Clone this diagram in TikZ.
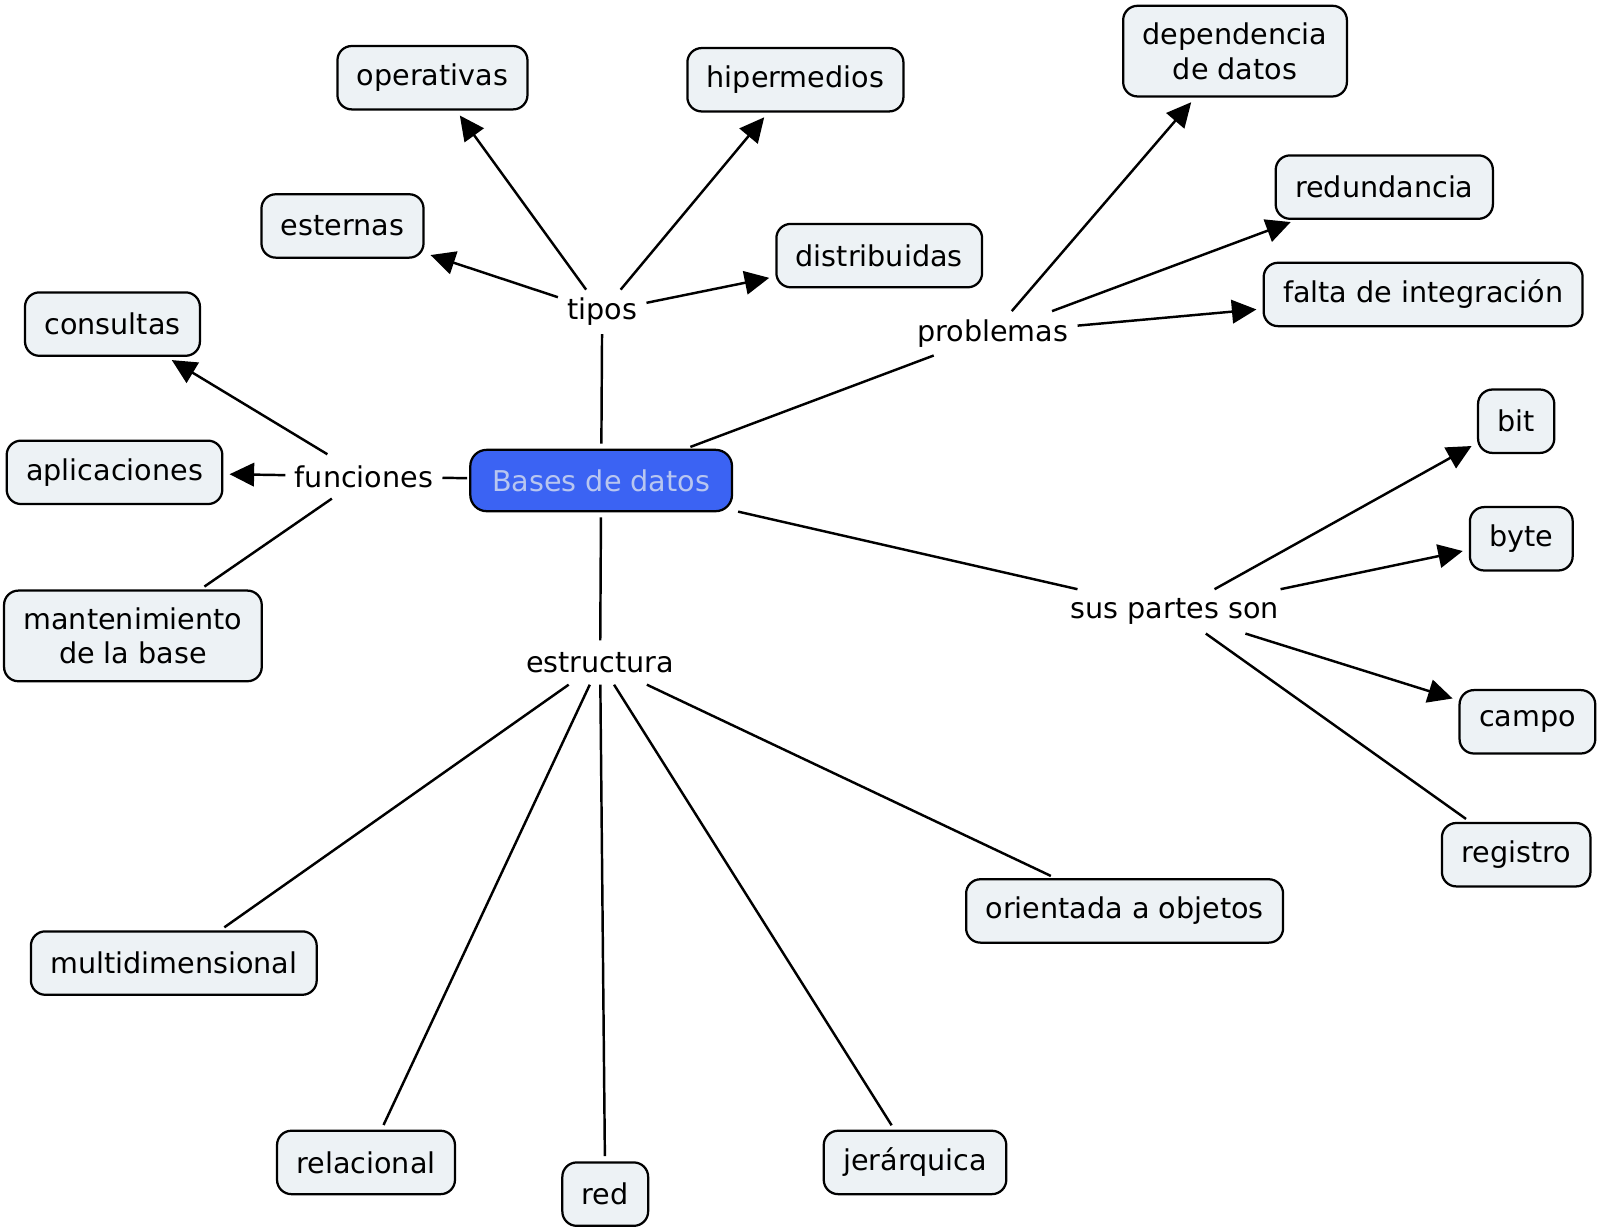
\documentclass[tikz,border=0pt]{standalone}
\usepackage{fontspec}
\setmainfont{DejaVu Sans}
\usetikzlibrary{arrows.meta}
\definecolor{boxfill}{HTML}{EDF2F5}
\definecolor{mainfill}{HTML}{3B63F3}
\definecolor{maintext}{HTML}{B8C6F0}
\begin{document}
\begin{tikzpicture}[x=1pt,y=-1pt,
  every node/.style={font=\fontsize{28}{34}\selectfont},
  cbox/.style={draw=black, line width=2.2pt, rounded corners=14pt, fill=boxfill,
    inner xsep=19pt, inner ysep=8pt, minimum height=62pt},
  cbox2/.style={draw=black, line width=2.2pt, rounded corners=14pt, fill=boxfill,
    inner xsep=19pt, inner ysep=16.5pt, align=center},
  mainbox/.style={draw=black, line width=2.2pt, rounded corners=16pt, fill=mainfill,
    text=maintext, minimum width=256pt, minimum height=60pt},
  lbl/.style={inner xsep=9pt, inner ysep=0pt, minimum height=43pt},
  arr/.style={line width=2.4pt, -{Triangle[length=24pt,width=23pt]}, shorten >=6pt},
  ln/.style={line width=2.4pt},
]
\useasboundingbox (0,0) rectangle (1565,1203);

% main concept
\node[mainbox] (bases) at (588,470) {Bases de datos};

% linking phrases
\node[lbl] (tipos) at (589,305) {tipos};
\node[lbl] (problemas) at (971,326) {problemas};
\node[lbl] (funciones) at (356,466) {funciones};
\node[lbl] (sus) at (1149,598) {sus partes son};
\node[lbl] (estructura) at (587,648) {estructura};

% concepts
\node[cbox] (operativas) at (423,76) {operativas};
\node[cbox] (hipermedios) at (778,78) {hipermedios};
\node[cbox] (esternas) at (335,221) {esternas};
\node[cbox] (distribuidas) at (860,250) {distribuidas};
\node[cbox2] (dependencia) at (1208,50) {dependencia\\de datos};
\node[cbox] (redundancia) at (1354,183) {redundancia};
\node[cbox] (falta) at (1392,288) {falta de integración};
\node[cbox] (consultas) at (110,317) {consultas};
\node[cbox] (aplicaciones) at (112,462) {aplicaciones};
\node[cbox2] (mantenimiento) at (130,622) {mantenimiento\\de la base};
\node[cbox] (bit) at (1483,412) {bit};
\node[cbox] (byte) at (1488,527) {byte};
\node[cbox] (campo) at (1494,706) {campo};
\node[cbox] (registro) at (1483,836) {registro};
\node[cbox] (multidimensional) at (170,942) {multidimensional};
\node[cbox] (orientada) at (1100,891) {orientada a objetos};
\node[cbox] (relacional) at (358,1137) {relacional};
\node[cbox] (red) at (592,1168) {red};
\node[cbox] (jerarquica) at (895,1137) {jerárquica};

% connectors from main concept to linking phrases
\draw[ln, shorten <=5pt] (bases) -- (tipos);
\draw[ln, shorten <=5pt] (bases) -- (problemas);
\draw[ln, shorten <=2pt] (bases) -- (funciones);
\draw[ln, shorten <=5pt] (bases) -- (sus);
\draw[ln, shorten <=5pt] (bases) -- (estructura);

% tipos
\draw[arr] (tipos) -- (operativas);
\draw[arr] (tipos) -- (hipermedios);
\draw[arr] (tipos) -- (esternas);
\draw[arr] (tipos) -- (distribuidas);

% problemas
\draw[arr] (problemas) -- (dependencia);
\draw[arr] (problemas) -- (redundancia);
\draw[arr] (problemas) -- (falta);

% funciones
\draw[arr] (funciones) -- (consultas);
\draw[arr] (funciones) -- (aplicaciones);
\draw[ln, shorten >=5pt] (funciones) -- (mantenimiento);

% sus partes son
\draw[arr] (sus) -- (bit);
\draw[arr] (sus) -- (byte);
\draw[arr] (sus) -- (campo);
\draw[ln, shorten >=5pt] (sus) -- (registro);

% estructura
\draw[ln, shorten >=5pt] (estructura) -- (multidimensional);
\draw[ln, shorten >=5pt] (estructura) -- (relacional);
\draw[ln, shorten >=5pt] (estructura) -- (red);
\draw[ln, shorten >=5pt] (estructura) -- (jerarquica);
\draw[ln, shorten >=5pt] (estructura) -- (orientada);
\end{tikzpicture}
\end{document}
